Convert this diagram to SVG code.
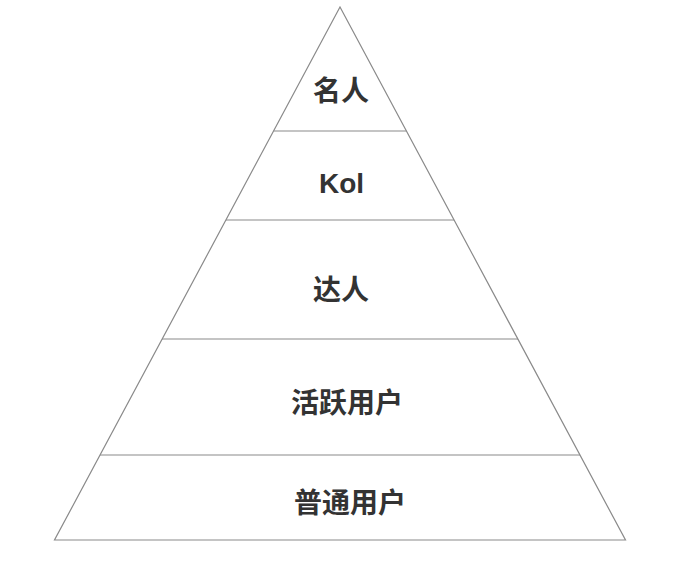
<svg xmlns="http://www.w3.org/2000/svg" width="697" height="567" viewBox="0 0 697 567">
<style>
.edge{fill:none;stroke:#8a8a8a;stroke-width:1.2}
.lbl{font-family:"Liberation Sans","Noto Sans CJK SC",sans-serif;font-weight:bold;font-size:28px;fill:#333;text-anchor:middle}
</style>
<rect width="697" height="567" fill="#fff"/>
<g id="connectors">
<polygon class="edge" points="340,7 625.5,540 54.5,540"/>
<line class="edge" x1="273.6" y1="131" x2="406.4" y2="131"/>
<line class="edge" x1="226" y1="220" x2="454" y2="220"/>
<line class="edge" x1="162" y1="339" x2="518" y2="339"/>
<line class="edge" x1="100" y1="455" x2="580" y2="455"/>
</g>
<g id="level1"><text class="lbl" x="341" y="100.5">名人</text></g>
<g id="level2"><text class="lbl" x="341.5" y="193.3">Kol</text></g>
<g id="level3"><text class="lbl" x="341" y="300">达人</text></g>
<g id="level4"><text class="lbl" x="347" y="413">活跃用户</text></g>
<g id="level5"><text class="lbl" x="350" y="513">普通用户</text></g>
</svg>
